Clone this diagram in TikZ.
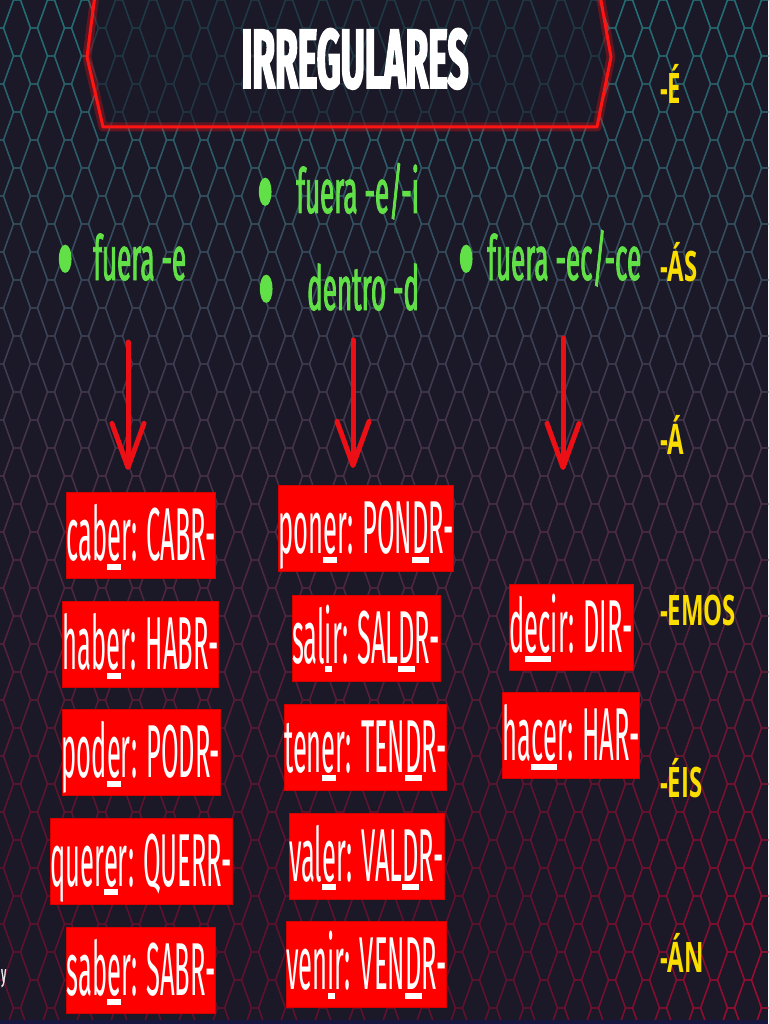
\documentclass[tikz,border=0pt]{standalone}
\usepackage{fontspec}
\setmainfont{Fira Sans}
\newfontfamily\boxfont[FakeStretch=0.34]{Fira Sans}
\newfontfamily\greenfont[FakeStretch=0.42,FakeBold=1.3]{Fira Sans}
\newfontfamily\yellowfont[FakeStretch=0.57]{Open Sans}
\newfontfamily\titlefont[FakeStretch=0.44,FakeBold=2]{Fira Sans}
\usetikzlibrary{arrows.meta}
\definecolor{bgc}{RGB}{27,24,39}
\definecolor{hexteal}{RGB}{34,110,116}
\definecolor{hexgray}{RGB}{64,57,78}
\definecolor{hexred}{RGB}{95,18,45}
\definecolor{hexbright}{RGB}{180,10,50}
\definecolor{boxred}{RGB}{255,0,0}
\definecolor{arrowred}{RGB}{236,16,22}
\definecolor{greentxt}{RGB}{98,224,72}
\definecolor{yellowtxt}{RGB}{250,222,0}
\definecolor{bannerred}{RGB}{255,20,20}
\definecolor{stripblue}{RGB}{22,22,62}
\newcommand\ubar[1]{\setbox0\hbox{#1}\rlap{\rule[-9pt]{\wd0}{6pt}}\box0}
\newcommand\bigbullet{\smash{\raisebox{-19pt}{\scalebox{1.9}{\textbullet}}}}
\tikzset{
  verbbox/.style={fill=boxred, draw=boxred!85!black, line width=0.6pt, text=white,
    inner sep=0pt, minimum height=86pt, text height=60pt, text depth=10pt,
    font=\boxfont\fontsize{75}{80}\selectfont},
  bullettxt/.style={text=greentxt, inner sep=0pt, anchor=base west,
    font=\greenfont\fontsize{62}{70}\selectfont},
  endtxt/.style={text=yellowtxt, inner sep=0pt, anchor=base west,
    font=\yellowfont\bfseries\fontsize{42}{46}\selectfont},
  downarrow/.style={draw=arrowred, line width=5pt, line cap=round,
    -{Straight Barb[length=44pt,width=32pt,round]}},
  hexline/.style={line width=1.3pt, line join=round},
}
\begin{document}
\begin{tikzpicture}[x=1pt,y=-1pt]
\useasboundingbox (0,0) rectangle (768,1024);
\fill[bgc] (0,0) rectangle (768,1024);
% honeycomb background
\begin{scope}
\clip (0,0) rectangle (768,1024);
\foreach \i in {0,...,46}{
 \foreach \j in {-1,...,19}{
  \pgfmathsetmacro\cx{\i*17}
  \pgfmathsetmacro\cy{\j*56+mod(\i,2)*28}
  \pgfmathsetmacro\tw{max(0,min(100,(400-\cy)/4))}
  \pgfmathsetmacro\rw{max(0,min(100,(\cy-380)/4.5))}
  \pgfmathsetmacro\bw{max(0,(\cx-520)/248)*max(0,(\cy-620)/400)*75}
  \ifdim\cy pt<390pt \colorlet{hc}{hexteal!\tw!hexgray}\else\colorlet{hc}{hexred!\rw!hexgray}\fi
  \colorlet{hctwo}{hexbright!\bw!hc}
  \draw[hexline, draw=hctwo] (\cx-13.5,\cy) -- (\cx-3.5,\cy-28) -- (\cx+3.5,\cy-28) -- (\cx+13.5,\cy) -- (\cx+3.5,\cy+28) -- (\cx-3.5,\cy+28) -- cycle;
 }
}
\end{scope}
% title banner
\fill[bgc, opacity=0.6] (95,-5) -- (87,57) -- (103,127) -- (597,127) -- (611,57) -- (600,-5) -- cycle;
\draw[bannerred, opacity=0.3, line width=9pt, line join=round] (95,-5) -- (87,57) -- (103,127) -- (597,127) -- (611,57) -- (600,-5);
\draw[bannerred, line width=3pt, line join=round] (95,-5) -- (87,57) -- (103,127) -- (597,127) -- (611,57) -- (600,-5);
\node[text=white, inner sep=0pt, anchor=base, font=\titlefont\bfseries\fontsize{84}{90}\selectfont] (title) at (355,88) {IRREGULARES};
% green bullet items
\node[bullettxt] (g1) at (57,280) {\makebox[36pt][l]{\bigbullet}fuera -e};
\node[bullettxt] (g2) at (257,213) {\makebox[39pt][l]{\bigbullet}fuera -e/-i};
\node[bullettxt] (g3) at (258,310) {\makebox[49pt][l]{\bigbullet}dentro -d};
\node[bullettxt] (g4) at (458,280) {\makebox[29pt][l]{\bigbullet}fuera -ec/-ce};
% arrows
\coordinate (a1s) at (128,342); \coordinate (a1e) at (128,470);
\coordinate (a2s) at (353,340); \coordinate (a2e) at (353,468);
\coordinate (a3s) at (563,338); \coordinate (a3e) at (563,470);
\draw[downarrow] (a1s) -- (a1e);
\draw[downarrow] (a2s) -- (a2e);
\draw[downarrow] (a3s) -- (a3e);
% verb boxes
\node[verbbox, minimum width=148pt] (caber) at (141,535.5) {cab\ubar{e}r: CABR-};
\node[verbbox, minimum width=155pt] (haber) at (140.5,644.5) {hab\ubar{e}r: HABR-};
\node[verbbox, minimum width=156pt] (poder) at (141,752.5) {pod\ubar{e}r: PODR-};
\node[verbbox, minimum width=178pt] (querer) at (141,861) {quer\ubar{e}r: QUERR-};
\node[verbbox, minimum width=148pt] (saber) at (141,970.5) {sab\ubar{e}r: SABR-};
\node[verbbox, minimum width=169pt] (poner) at (366,528.5) {pon\ubar{e}r: PON\ubar{D}R-};
\node[verbbox, minimum width=146pt] (salir) at (366,638) {sal\ubar{i}r: SAL\ubar{D}R-};
\node[verbbox, minimum width=159pt] (tener) at (365.5,747) {ten\ubar{e}r: TEN\ubar{D}R-};
\node[verbbox, minimum width=155pt] (valer) at (366.5,856) {val\ubar{e}r: VAL\ubar{D}R-};
\node[verbbox, minimum width=159pt] (venir) at (366.5,964.5) {ven\ubar{i}r: VEN\ubar{D}R-};
\node[verbbox, minimum width=124pt] (decir) at (571,627.5) {d\ubar{ec}ir: DIR-};
\node[verbbox, minimum width=136pt] (hacer) at (571,735.5) {ha\ubar{ce}r: HAR-};
% endings
\node[endtxt] (e1) at (660,104) {-É};
\node[endtxt] (e2) at (660,281) {-ÁS};
\node[endtxt] (e3) at (660,454) {-Á};
\node[endtxt] (e4) at (660,625) {-EMOS};
\node[endtxt] (e5) at (660,797) {-ÉIS};
\node[endtxt] (e6) at (660,972) {-ÁN};
% bottom strip and edge mark
\fill[stripblue] (0,1020) rectangle (768,1024);
\node[anchor=base west, inner sep=0pt, text=white!85!gray, font=\greenfont\fontsize{24}{24}\selectfont] (wm) at (1,982) {y};
\end{tikzpicture}
\end{document}
